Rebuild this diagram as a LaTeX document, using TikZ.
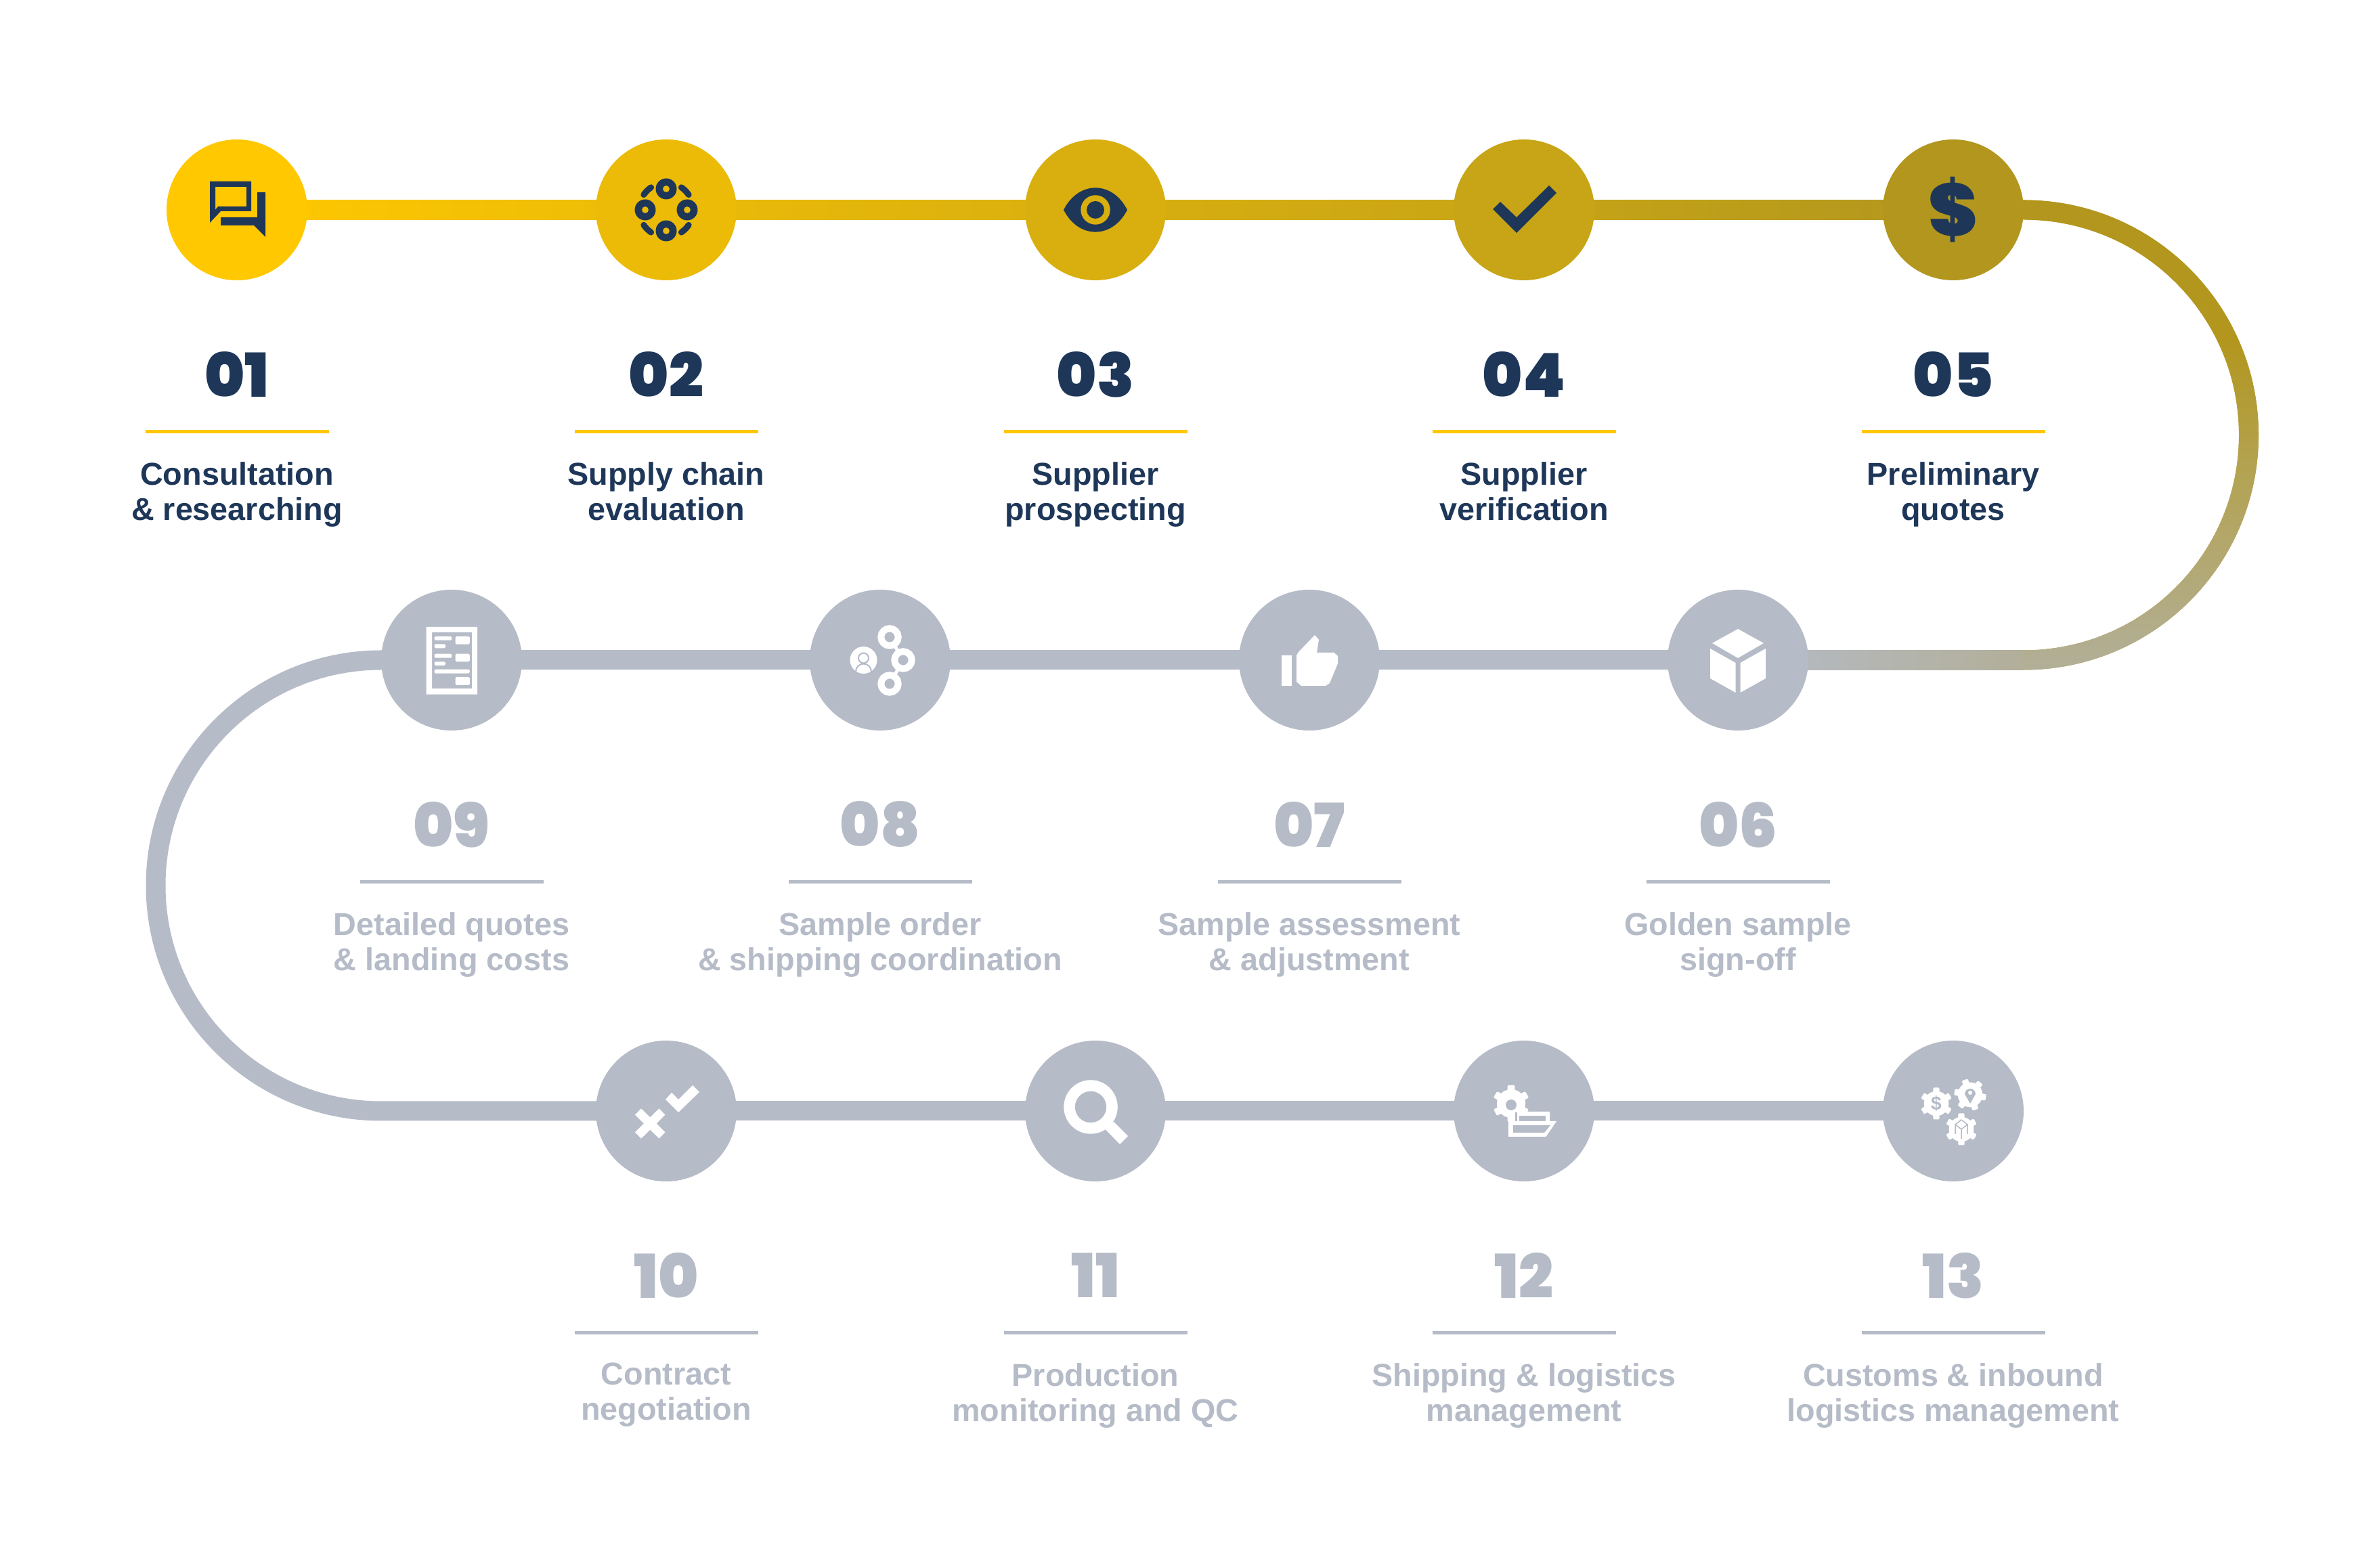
\documentclass[tikz,border=0pt]{standalone}
\usepackage{fontspec}
\usetikzlibrary{calc,backgrounds}
\setmainfont{Liberation Sans}
\newfontfamily\numfont{Poppins Black}
\newfontfamily\dollarfont{Liberation Sans Bold}
\definecolor{navy}{HTML}{1E3759}
\definecolor{mute}{HTML}{B5BBC7}
\definecolor{stepa}{HTML}{FFC800}
\definecolor{stepb}{HTML}{EBBB08}
\definecolor{stepc}{HTML}{D9AF0F}
\definecolor{stepd}{HTML}{C7A516}
\definecolor{stepe}{HTML}{B2961E}
\definecolor{bendmid}{HTML}{B3A24F}
\definecolor{bendlow}{HTML}{B2AF99}
\pgfdeclareverticalshading{bendfade}{100bp}{color(0bp)=(bendlow); color(25bp)=(bendlow); color(47bp)=(bendmid); color(60bp)=(stepe); color(100bp)=(stepe)}
% One gear: centre x, centre y, radius, turn.
\newcommand{\cogwheel}[4]{%
  \begin{scope}[shift={(#1,#2)},rotate=#4,scale=#3]
    \fill[white] (0,0) circle (.78);
    \foreach \t in {0,60,...,300}
      \fill[white,rotate=\t,rounded corners=.4pt] (-.2,.6) rectangle (.2,1);
  \end{scope}}
\begin{document}
\begin{tikzpicture}[
  stepdot/.style={circle,minimum size=2.08cm,inner sep=0pt},
  stepnum/.style={font=\numfont\fontsize{25.5}{26}\selectfont,inner sep=0pt},
  steplabel/.style={font=\bfseries\fontsize{13.3}{14.8}\selectfont,align=center,inner sep=0pt,anchor=north,execute at begin node={\rule{0pt}{11pt}}},
  steprule/.style={line width=.045cm},
  track/.style={line width=.29cm}]
  \useasboundingbox (0,0) rectangle (35.08,23.15);
  % Active steps, top row.
  \foreach \n/\x/\y/\col/\lab in {
      01/3.50/20.05/stepa/{Consultation\\\& researching},
      02/9.84/20.05/stepb/{Supply chain\\evaluation},
      03/16.18/20.05/stepc/{Supplier\\prospecting},
      04/22.51/20.05/stepd/{Supplier\\verification},
      05/28.85/20.05/stepe/{Preliminary\\quotes}}{
    \node[stepdot,fill=\col] (s\n) at (\x,\y) {};
    \node[stepnum,text=navy] (n\n) at ($(s\n.center)+(0,-2.43)$) {\n};
    \draw[steprule,stepa] ($(s\n.center)+(-1.355,-3.275)$) -- ++(2.71,0);
    \node[steplabel,text=navy] (t\n) at ($(s\n.center)+(0,-3.715)$) {\lab};
  }
  % Waiting steps, the two lower rows.
  \foreach \n/\x/\y/\lab in {
      06/25.67/13.40/{Golden sample\\sign-off},
      07/19.34/13.40/{Sample assessment\\\& adjustment},
      08/13.00/13.40/{Sample order\\\& shipping coordination},
      09/6.67/13.40/{Detailed quotes\\\& landing costs},
      10/9.84/6.74/{Contract\\negotiation},
      11/16.18/6.74/{Production\\monitoring and QC},
      12/22.51/6.74/{Shipping \& logistics\\management},
      13/28.85/6.74/{Customs \& inbound\\logistics management}}{
    \node[stepdot,fill=mute] (s\n) at (\x,\y) {};
    \node[stepnum,text=mute] (n\n) at ($(s\n.center)+(0,-2.43)$) {\n};
    \draw[steprule,mute] ($(s\n.center)+(-1.355,-3.275)$) -- ++(2.71,0);
    \node[steplabel,text=mute] (t\n) at ($(s\n.center)+(0,-3.715)$) {\lab};
  }
  \coordinate (bendr) at (29.89,20.05);
  \coordinate (bendr2) at (29.89,13.40);
  \coordinate (bendl) at (5.63,13.40);
  \begin{scope}[on background layer]
    % Track.
    \draw[track,stepa] (s01.center) -- (s02.center);
    \draw[track,stepb] (s02.center) -- (s03.center);
    \draw[track,stepc] (s03.center) -- (s04.center);
    \draw[track,stepd] (s04.center) -- (s05.center);
    \draw[track,stepe] (s05.center) -- (bendr) arc[start angle=90,end angle=-90,radius=3.325] -- (s06.center);
    \draw[track,mute] (s06.center) -- (s07.center);
    \draw[track,mute] (s07.center) -- (s08.center);
    \draw[track,mute] (s08.center) -- (s09.center);
    \draw[track,mute] (s09.center) -- (bendl) arc[start angle=90,end angle=270,radius=3.33] -- (s10.center);
    \draw[track,mute] (s10.center) -- (s11.center);
    \draw[track,mute] (s11.center) -- (s12.center);
    \draw[track,mute] (s12.center) -- (s13.center);
    % Colour runs along the gold part.
    \foreach \a/\b/\ca/\cb in {01/02/stepa/stepb,02/03/stepb/stepc,03/04/stepc/stepd,04/05/stepd/stepe}
      \shade[left color=\ca,right color=\cb] ($(s\a.center)+(0,.145)$) rectangle ($(s\b.center)+(0,-.145)$);
    \shade[shading=bendfade] (29.89,20.195) arc[start angle=90,end angle=-90,radius=3.47]
      -- (29.89,13.545) arc[start angle=-90,end angle=90,radius=3.18] -- cycle;
    \shade[left color=mute,right color=bendlow] ($(s06.center)+(0,.145)$) rectangle ($(bendr2)+(0,-.145)$);
  \end{scope}
  % 01 speech bubbles
  \begin{scope}[shift={(s01.center)}]
    \fill[navy,even odd rule] (-.40,.42) -- (.21,.42) -- (.21,-.02) -- (-.24,-.02) -- (-.40,-.19) -- cycle
      (-.32,.34) -- (.14,.34) -- (.14,.05) -- (-.28,.05) -- (-.32,0) -- cycle;
    \fill[navy] (.30,.26) -- (.42,.26) -- (.42,-.40) -- (.25,-.23) -- (-.24,-.23) -- (-.24,-.11) -- (.30,-.11) -- cycle;
  \end{scope}
  % 02 ring
  \begin{scope}[shift={(s02.center)}]
    \foreach \a in {0,90,180,270}
      \fill[navy,even odd rule] (\a:.31) circle (.155) (\a:.31) circle (.05);
    \foreach \a in {45,135,225,315}
      \draw[navy,line width=.09cm,line cap=round] (\a-11:.40) arc[start angle=\a-11,end angle=\a+11,radius=.40];
  \end{scope}
  % 03 eye
  \begin{scope}[shift={(s03.center)}]
    \fill[navy] (-.47,0) .. controls (-.25,.435) and (.25,.435) .. (.47,0) .. controls (.25,-.435) and (-.25,-.435) .. (-.47,0) -- cycle;
    \fill[stepc] (0,0) circle (.217);
    \fill[navy] (0,0) circle (.13);
  \end{scope}
  % 04 tick
  \fill[navy,shift={(s04.center)}] (-.46,.01) -- (-.35,.12) -- (-.11,-.11) -- (.37,.36) -- (.48,.25) -- (-.11,-.34) -- cycle;
  % 05 dollar
  \node[navy,font=\numfont\fontsize{31}{31}\selectfont,inner sep=0pt] (dollar) at (s05.center) {\$};
  % 06 box
  \begin{scope}[shift={(s06.center)}]
    \fill[white] (0,.46) -- (.38,.25) -- (0,.03) -- (-.38,.25) -- cycle;
    \fill[white] (-.41,.17) -- (-.035,-.04) -- (-.035,-.48) -- (-.41,-.27) -- cycle;
    \fill[white] (.41,.17) -- (.035,-.04) -- (.035,-.48) -- (.41,-.27) -- cycle;
  \end{scope}
  % 07 thumb
  \begin{scope}[shift={(s07.center)}]
    \fill[white] (-.41,.07) rectangle (-.26,-.38);
    \fill[white] (.08,.37) -- (.14,.30) -- (.11,.11) -- (.365,.11) -- (.42,.06) -- (.42,-.05) -- (.30,-.34) -- (.24,-.38) -- (-.12,-.38) -- (-.19,-.32) -- (-.19,.07) -- (-.16,.12) -- cycle;
  \end{scope}
  % 08 network
  \begin{scope}[shift={(s08.center)}]
    \draw[white,line width=.05cm] (.14,.34) -- (.34,0) -- (.14,-.35);
    \foreach \p in {(.14,.34),(.34,0),(.14,-.35)}
      \draw[white,line width=.10cm,fill=mute] \p circle (.127);
    \fill[white] (-.245,0) circle (.20);
    \draw[mute,line width=.02cm] (-.245,.03) circle (.075);
    \draw[mute,line width=.02cm] (-.36,-.17) arc[start angle=180,end angle=0,radius=.115];
  \end{scope}
  % 09 sheet
  \begin{scope}[shift={(s09.center)}]
    \fill[white,even odd rule] (-.375,.49) rectangle (.38,-.507) (-.29,.41) rectangle (.30,-.42);
    \foreach \l/\r/\u/\d in {-.254/.004/.35/.293,-.254/-.09/.237/.177,-.254/.004/.093/.033,-.254/-.09/-.023/-.08,-.254/.268/-.137/-.197,.056/.268/.35/.233,.056/.268/.093/-.023,.056/.268/-.25/-.37}
      \fill[white,rounded corners=.5pt] (\l,\u) rectangle (\r,\d);
  \end{scope}
  % 10 cross and tick
  \begin{scope}[shift={(s10.center)}]
    \draw[white,line width=.13cm] (-.415,-.01) -- (-.06,-.36) (-.415,-.36) -- (-.06,-.01);
    \fill[white] (-.01,.17) -- (.08,.27) -- (.18,.17) -- (.39,.38) -- (.49,.28) -- (.18,-.02) -- cycle;
  \end{scope}
  % 11 lens
  \begin{scope}[shift={(s11.center)}]
    \draw[white,line width=.165cm] (-.07,.06) circle (.315);
    \fill[white] (.27,-.16) -- (.48,-.37) -- (.36,-.49) -- (.145,-.27) -- cycle;
  \end{scope}
  % 12 gear and folder
  \begin{scope}[shift={(s12.center)}]
    \cogwheel{-.19}{.11}{.27}{0}
    \fill[mute] (-.19,.09) circle (.08);
    \fill[white] (-.16,.02) -- (-.07,.02) -- (-.07,-.01) -- (.38,-.01) -- (.38,-.15) -- (-.16,-.15) -- cycle;
    \fill[mute] (-.07,-.07) rectangle (.32,-.16);
    \fill[mute] (-.13,-.02) rectangle (-.105,-.16);
    \fill[white] (-.23,-.15) -- (.48,-.15) -- (.325,-.38) -- (-.23,-.38) -- cycle;
    \fill[mute] (-.16,-.21) -- (.39,-.21) -- (.30,-.32) -- (-.16,-.32) -- cycle;
  \end{scope}
  % 13 three gears
  \begin{scope}[shift={(s13.center)}]
    \cogwheel{-.25}{.11}{.235}{0}
    \cogwheel{.25}{.24}{.235}{20}
    \cogwheel{.12}{-.27}{.235}{0}
    \node[mute,font=\dollarfont\fontsize{8}{8}\selectfont,inner sep=0pt] (dollarb) at (-.25,.11) {\$};
    \fill[mute] (.25,.11) -- (.17,.25) arc[start angle=180,end angle=0,radius=.08] -- cycle;
    \fill[white] (.25,.27) circle (.03);
    \draw[mute,line width=.015cm] (.12,-.13) -- (.03,-.2) -- (.03,-.34) (.12,-.13) -- (.21,-.2) -- (.21,-.34) (.03,-.2) -- (.12,-.27) -- (.21,-.2) (.12,-.27) -- (.12,-.41);
  \end{scope}
\end{tikzpicture}
\end{document}
